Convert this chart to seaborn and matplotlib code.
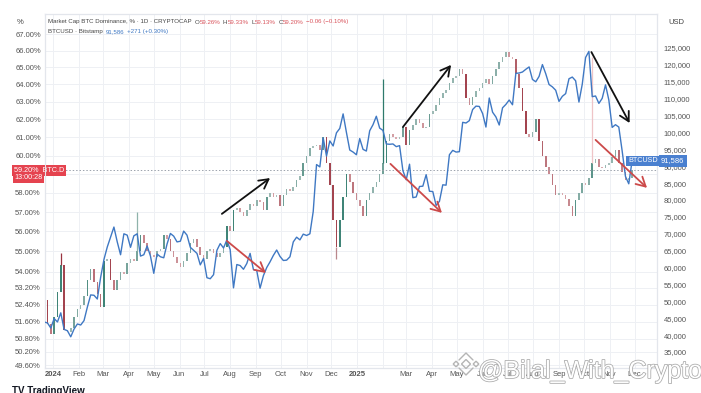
import matplotlib
matplotlib.use("Agg")
import numpy as np
import pandas as pd
import matplotlib.pyplot as plt
import matplotlib.patheffects as pe
from matplotlib.patches import Polygon
from matplotlib.lines import Line2D
from matplotlib.ticker import FixedLocator, FixedFormatter, NullLocator
import seaborn as sns

W, H = 701, 393

# ---------------- data ----------------
candle_dates = pd.date_range("2023-12-21", periods=178, freq="4D")

dom_first_open = 53.2
dom_close = [
    52.6, 51.5, 51.0, 51.8, 53.0, 54.3, 51.2, 51.1, 51.3, 51.8,
    52.2, 52.4, 52.8, 53.6, 54.1, 53.5, 52.9, 52.3, 54.5, 54.6,
    53.6, 53.1, 53.6, 54.0, 53.9, 54.4, 54.6, 54.5, 55.0, 55.8,
    55.4, 55.0, 54.8, 54.7, 55.0, 55.1, 55.8, 55.6, 55.0, 54.7,
    54.4, 54.2, 54.5, 54.9, 55.4, 55.6, 55.2, 54.8, 54.6, 55.0,
    55.1, 54.9, 54.7, 54.9, 55.2, 56.3, 56.0, 57.1, 57.2, 57.0,
    56.8, 57.1, 57.4, 57.3, 57.6, 57.5, 57.1, 57.8, 58.0, 57.8,
    57.9, 57.3, 57.9, 58.2, 58.1, 58.3, 58.7, 58.9, 59.6, 60.0,
    60.4, 60.5, 60.6, 60.3, 61.0, 59.6, 58.4, 56.6, 55.2, 56.6,
    57.8, 59.0, 58.6, 58.0, 57.6, 57.3, 56.8, 57.6, 58.0, 58.3,
    58.6, 59.0, 59.6, 60.8, 61.2, 61.0, 60.9, 61.0, 61.6, 60.6,
    61.4, 61.7, 62.0, 61.8, 61.5, 61.6, 62.3, 62.5, 62.8, 63.2,
    63.5, 63.7, 64.1, 64.4, 64.5, 64.9, 64.6, 63.2, 62.8, 63.3,
    63.6, 63.8, 64.1, 64.3, 64.0, 64.5, 64.9, 65.3, 65.6, 65.9,
    65.6, 65.5, 64.6, 63.8, 62.5, 61.2, 61.0, 61.3, 62.0, 60.8,
    60.0, 59.4, 59.0, 58.4, 57.9, 58.0, 57.9, 57.7, 57.3, 56.8,
    57.6, 58.0, 58.5, 58.4, 58.8, 59.6, 59.8, 59.4, 59.3, 59.5,
    59.6, 59.9, 60.3, 59.6, 59.1, 58.7, 58.8, 59.2,
]

btc_close_k = [
    43.9, 43.6, 42.1, 44.9, 43.9, 46.6, 41.7, 41.3, 39.5, 41.8,
    43.3, 43.0, 44.3, 48.3, 51.9, 51.8, 50.7, 57.1, 62.4, 66.1,
    69.0, 72.0, 67.6, 63.8, 70.0, 69.6, 66.0, 69.4, 70.0, 63.4,
    63.8, 66.4, 63.4, 58.3, 64.0, 63.2, 62.9, 67.0, 70.1, 69.3,
    67.6, 67.8, 70.8, 69.6, 66.0, 65.1, 64.2, 60.8, 62.7, 57.0,
    56.7, 57.9, 65.1, 67.1, 65.8, 68.2, 65.3, 54.0, 60.9, 60.6,
    59.5, 61.2, 64.2, 59.4, 59.1, 53.9, 57.6, 60.0, 61.7, 63.6,
    65.2, 63.3, 62.1, 62.2, 63.2, 67.6, 69.0, 68.2, 69.9, 69.5,
    70.0, 76.6, 90.5, 89.8, 98.4, 93.0, 97.5, 96.0, 99.9, 101.2,
    105.5, 100.0, 94.8, 94.2, 93.4, 98.2, 95.0, 94.5, 100.5, 102.3,
    104.8, 101.3, 100.6, 96.6, 96.5, 96.6, 95.8, 96.1, 88.7, 86.0,
    90.6, 80.7, 80.9, 84.0, 84.1, 87.5, 82.6, 82.5, 78.4, 79.6,
    84.5, 84.4, 93.4, 94.7, 94.2, 94.3, 103.0, 102.8, 103.5, 106.8,
    107.8, 107.7, 105.6, 101.6, 110.2, 106.0, 104.6, 102.2, 107.3, 108.3,
    109.6, 108.2, 117.5, 117.6, 117.9, 118.7, 119.4, 115.7, 115.0, 116.6,
    120.1, 117.4, 114.2, 113.5, 112.5, 109.2, 110.7, 111.5, 115.9, 116.4,
    115.3, 109.0, 114.3, 122.2, 124.0, 110.6, 110.8, 108.6, 110.1, 114.1,
    109.6, 101.5, 102.3, 101.6, 94.6, 87.0, 84.8, 91.6,
]

wick_dates = ["2024-01-10", "2024-04-13", "2024-12-09", "2025-02-03", "2025-10-11"]
wick_levels = [54.9, 57.0, 54.6, 64.3, 65.6]
wick_colors = ["#9a3440", "#8fb3ab", "#b9878c", "#2e7a6c", "#efc4c7"]

left_ticks = [67, 66, 65, 64, 63, 62, 61, 60, 59, 58, 57, 56, 55, 54,
              53.2, 52.4, 51.6, 50.8, 50.2, 49.6]
right_ticks_k = [35, 40, 45, 50, 55, 60, 65, 70, 75, 80, 85, 90, 95,
                 100, 105, 110, 115, 120, 125]
month_ticks = pd.date_range("2024-01-01", "2025-12-01", freq="MS")
month_labels = ["2024", "Feb", "Mar", "Apr", "May", "Jun", "Jul", "Aug", "Sep",
                "Oct", "Nov", "Dec", "2025", "", "Mar", "Apr", "May", "Jun",
                "Jul", "Aug", "Sep", "Oct", "Nov", "Dec"]

# trend arrows drawn by the author: (start date, start price k, end date, end price k, colour)
arrows = [
    ("2024-07-22", 75.9, "2024-09-18", 86.5, "#111111"),
    ("2024-07-28", 67.9, "2024-09-13", 58.4, "#cc4a4a"),
    ("2025-02-25", 101.6, "2025-04-24", 120.0, "#111111"),
    ("2025-02-10", 90.7, "2025-04-13", 76.2, "#cc4a4a"),
    ("2025-10-10", 123.8, "2025-11-25", 102.8, "#111111"),
    ("2025-10-15", 97.8, "2025-12-16", 83.6, "#cc4a4a"),
]

# ---------------- figure ----------------
sns.set_theme(style="white")
plt.rcParams["font.family"] = ["Liberation Sans", "DejaVu Sans"]

fig = plt.figure(figsize=(W / 100, H / 100), dpi=100)
L, R, T, B = 45, 657, 14, 368
ax = fig.add_axes([L / W, 1 - B / H, (R - L) / W, (B - T) / H])
ax2 = ax.twinx()

# candles (dominance)
opens = [dom_first_open] + dom_close[:-1]
def mix(c1, c2, t):
    c1 = np.array(matplotlib.colors.to_rgb(c1)); c2 = np.array(matplotlib.colors.to_rgb(c2))
    return tuple(c1 + (c2 - c1) * t)

colors, bottoms, heights = [], [], []
for o, c in zip(opens, dom_close):
    mag = abs(c - o) / o * 100
    t = min(0.2 + mag / 2.6, 0.9)
    if c >= o:
        colors.append(mix("#d3d9d8", "#2e7a6c", t))
    else:
        colors.append(mix("#efd3d5", "#9a3440", t))
    bottoms.append(min(o, c))
    heights.append(max(abs(c - o), 0.08))

ax.bar(candle_dates, heights, bottom=bottoms, width=1.9, color=colors,
       linewidth=0, zorder=2)

for d, lvl, wc in zip(wick_dates, wick_levels, wick_colors):
    d = pd.Timestamp(d)
    i = int(np.argmin(np.abs((candle_dates - d).days)))
    lo = min(opens[i], dom_close[i]); hi = max(opens[i], dom_close[i])
    a, b = (lvl, lo) if lvl < lo else (hi, lvl)
    ax.vlines(candle_dates[i], a, b, color=wc, lw=0.9, zorder=2)

ax.set_yscale("log")
ax.set_ylim(49.47, 68.23)
ax.yaxis.set_major_locator(FixedLocator(left_ticks))
ax.yaxis.set_major_formatter(FixedFormatter([f"{v:.2f}%" for v in left_ticks]))
ax.yaxis.set_minor_locator(NullLocator())
ax.set_xlim(pd.Timestamp("2023-12-22"), pd.Timestamp("2025-12-28"))
ax.set_xticks(month_ticks)
ax.set_xticklabels(month_labels)
for lab in ax.get_xticklabels():
    if lab.get_text() in ("2024", "2025"):
        lab.set_fontweight("bold")
ax.tick_params(axis="x", length=0, pad=2, labelsize=5.5, labelcolor="#555555")
ax.tick_params(axis="y", length=0, pad=3, labelsize=5.5, labelcolor="#555555")
ax.grid(True, color="#eef0f4", lw=0.7)
ax.set_axisbelow(True)

ax.axhline(dom_close[-1], color="#9ca3ad", lw=0.7, ls=(0, (1.5, 2)), zorder=3)

# BTC line
btc_df = pd.DataFrame({"date": candle_dates, "price": btc_close_k})
sns.lineplot(data=btc_df, x="date", y="price", ax=ax2, color="#3f78c3", lw=1.0, zorder=4)
ax2.set_ylim(30.27, 135.07)
ax2.set_yticks(right_ticks_k)
ax2.set_yticklabels([f"{int(v * 1000):,}" for v in right_ticks_k])
ax2.tick_params(axis="y", length=0, pad=5, labelsize=5.5, labelcolor="#555555")
ax2.set_xlabel(""); ax2.set_ylabel(""); ax.set_xlabel(""); ax.set_ylabel("")
ax2.grid(False)

for sp in list(ax.spines.values()) + list(ax2.spines.values()):
    sp.set_color("#e3e6ec"); sp.set_linewidth(0.8)

for sd, sp_, ed, ep, col in arrows:
    ax2.annotate("", xy=(pd.Timestamp(ed), ep), xytext=(pd.Timestamp(sd), sp_),
                 arrowprops=dict(arrowstyle="->,head_length=0.55,head_width=0.3",
                                 color=col, lw=1.3, shrinkA=0, shrinkB=0),
                 zorder=6, annotation_clip=False)

# price labels
ax.text(-0.0507, dom_close[-1], "59.20%  BTC.D", transform=ax.get_yaxis_transform(),
        ha="left", va="center", fontsize=5.2, color="white", zorder=10, clip_on=False,
        bbox=dict(boxstyle="square,pad=0.25", fc="#e5434f", ec="none"))
ax.annotate("13:00:28", xy=(-0.0507, dom_close[-1]), xycoords=ax.get_yaxis_transform(),
            xytext=(0, -7.5), textcoords="offset pixels", ha="left", va="center",
            fontsize=5.2, color="white", zorder=10, annotation_clip=False,
            bbox=dict(boxstyle="square,pad=0.2", fc="#e5434f", ec="none"))
ax2.text((628 - L) / (R - L), btc_close_k[-1], "BTCUSD", transform=ax2.get_yaxis_transform(),
         ha="left", va="center", fontsize=5.2, color="white", zorder=10, clip_on=False,
         bbox=dict(boxstyle="square,pad=0.25", fc="#4a80d0", ec="none"))
ax2.text((661 - L) / (R - L), btc_close_k[-1], f"{int(btc_close_k[-1] * 1000 - 14):,}",
         transform=ax2.get_yaxis_transform(),
         ha="left", va="center", fontsize=5.5, color="white", zorder=10, clip_on=False,
         bbox=dict(boxstyle="square,pad=0.3", fc="#4a80d0", ec="none"))

# header texts
fig.text(20 / W, 1 - 22 / H, "%", fontsize=5.5, color="#444444", ha="center", va="center")
fig.text(668 / W, 1 - 22 / H, "USD", fontsize=5.5, color="#444444", ha="left", va="center")

fig.canvas.draw()
renderer = fig.canvas.get_renderer()
def seq_text(x_px, y_px, segments, size=4.4):
    x = x_px
    for s, c, gap in segments:
        x += gap
        t = fig.text(x / W, 1 - y_px / H, s, color=c, fontsize=size, ha="left", va="center")
        x += t.get_window_extent(renderer=renderer).width

red = "#d9545c"; grey = "#444444"; blue = "#3f78c3"
seq_text(48, 22, [("Market Cap BTC Dominance, % · 1D · CRYPTOCAP", grey, 0), ("O", grey, 3),
                  ("59.26%", red, 0.3), ("H", grey, 2.5), ("59.33%", red, 0.3),
                  ("L", grey, 2.5), ("59.13%", red, 0.3), ("C", grey, 2.5),
                  ("59.20%", red, 0.3), ("−0.06 (−0.10%)", red, 2.5)])
seq_text(48, 32, [("BTCUSD · Bitstamp", grey, 0), ("91,586", blue, 3),
                  ("+271 (+0.30%)", blue, 3)])

# bottom-left brand
fig.text(12 / W, 1 - 391 / H, "TV TradingView", fontsize=7, fontweight="bold",
         color="#131722", ha="left", va="center")

# watermark
wm = fig.text(478 / W, 1 - 378 / H, "@Bilal_With_Crypto", fontsize=18, color="white",
              ha="left", va="baseline", family=["Liberation Sans", "DejaVu Sans"], zorder=20)
wm.set_path_effects([pe.Stroke(linewidth=1.1, foreground="#a9a9a9"), pe.Normal()])

def diamond(cx, cy, r):
    pts = [(cx, cy - r), (cx + r, cy), (cx, cy + r), (cx - r, cy)]
    return [(px / W, 1 - py / H) for px, py in pts]
cx, cy = 466, 364
for dx, dy, r in [(0, 0, 4.5), (-10, 0, 2.8), (10, 0, 2.8)]:
    fig.add_artist(Polygon(diamond(cx + dx, cy + dy, r), closed=True, fill=False,
                           ec="#b5b5b5", lw=1.0, transform=fig.transFigure))
for sgn in (-1, 1):
    pts = [(cx - 7, cy + sgn * 4), (cx, cy + sgn * 11), (cx + 7, cy + sgn * 4)]
    fig.add_artist(Line2D([p[0] / W for p in pts], [1 - p[1] / H for p in pts],
                          color="#b5b5b5", lw=1.0, transform=fig.transFigure))

fig.savefig("out.png", dpi=100)
